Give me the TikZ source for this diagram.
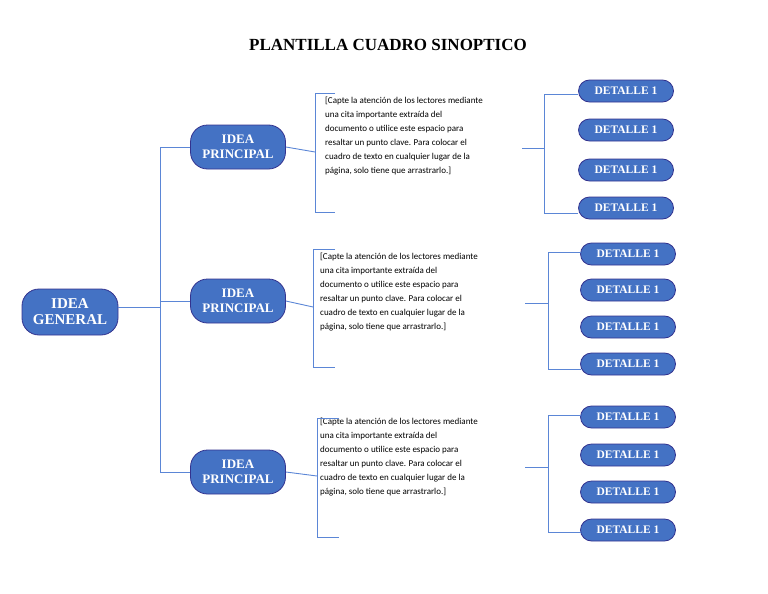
\documentclass[tikz,border=0pt]{standalone}
\usepackage{fontspec}
\setmainfont{Liberation Serif}
\newfontfamily\bodyf{Carlito}
\begin{document}
\begin{tikzpicture}[x=1pt,y=-1pt,
  pill/.style={draw=blue!45!black!80, line width=0.8pt, fill=bl, rounded corners=11pt, text=white, font=\bfseries, align=center, inner sep=0pt},
  ig/.style={pill, minimum width=96pt, minimum height=46pt, font=\bfseries\fontsize{15}{16}\selectfont, rounded corners=17pt},
  ip/.style={pill, minimum width=95pt, minimum height=44pt, font=\bfseries\fontsize{13}{15}\selectfont, rounded corners=17pt},
  det/.style={pill, minimum width=95pt, minimum height=22pt, font=\bfseries\fontsize{11.5}{12}\selectfont},
  txt/.style={anchor=north west, align=left, font=\bodyf\fontsize{9}{14}\selectfont, inner sep=0pt},
  ln/.style={draw=ln, line width=0.9pt}]
\definecolor{bl}{HTML}{4472C4}
\definecolor{ln}{HTML}{5B86D6}
\useasboundingbox (0,0) rectangle (768,594);
\node[font=\bfseries\fontsize{17}{18}\selectfont] (title) at (388,45) {PLANTILLA CUADRO SINOPTICO};
\node[ig] (ig) at (70,312) {IDEA\\GENERAL};
\node[ip] (ip1) at (238,147) {IDEA\\PRINCIPAL};
\node[ip] (ip2) at (238,301) {IDEA\\PRINCIPAL};
\node[ip] (ip3) at (238,472) {IDEA\\PRINCIPAL};
\coordinate (b0) at (160,307);
\draw[ln] (ig.east |- b0) -- (b0);
\draw[ln] (ip1.west) -- (160,147) -- (160,472) -- (ip3.west);
\draw[ln] (160,301) -- (ip2.west);
\def\T{[Capte la atención de los lectores mediante\\una cita importante extraída del\\documento o utilice este espacio para\\resaltar un punto clave. Para colocar el\\cuadro de texto en cualquier lugar de la\\página, solo tiene que arrastrarlo.]}
\node[txt] (t1) at (325,97) {\T};
\node[txt] (t2) at (320,253) {\T};
\node[txt] (t3) at (320,418) {\T};
% brackets
\draw[ln] (ip1.east) -- (315,152);
\draw[ln] (335,93) -- (315,93) -- (315,212) -- (335,212);
\draw[ln] (ip2.east) -- (313,307);
\draw[ln] (335,249) -- (313,249) -- (313,367) -- (335,367);
\draw[ln] (ip3.east) -- (317,476);
\draw[ln] (339,418) -- (317,418) -- (317,537) -- (339,537);
% details
\foreach \i/\y in {1/91,2/130,3/170,4/208}{\node[det] (d1\i) at (626,\y) {DETALLE 1};}
\foreach \i/\y in {1/254,2/290,3/327,4/364}{\node[det] (d2\i) at (628,\y) {DETALLE 1};}
\foreach \i/\y in {1/417,2/455,3/492,4/530}{\node[det] (d3\i) at (628,\y) {DETALLE 1};}
\draw[ln] (522,148) -- (544,148);
\draw[ln] (578,94) -- (544,94) -- (544,213) -- (578,213);
\draw[ln] (525,303) -- (548,303);
\draw[ln] (581,252) -- (548,252) -- (548,369) -- (581,369);
\draw[ln] (525,467) -- (548,467);
\draw[ln] (581,415) -- (548,415) -- (548,532) -- (581,532);
\end{tikzpicture}
\end{document}
